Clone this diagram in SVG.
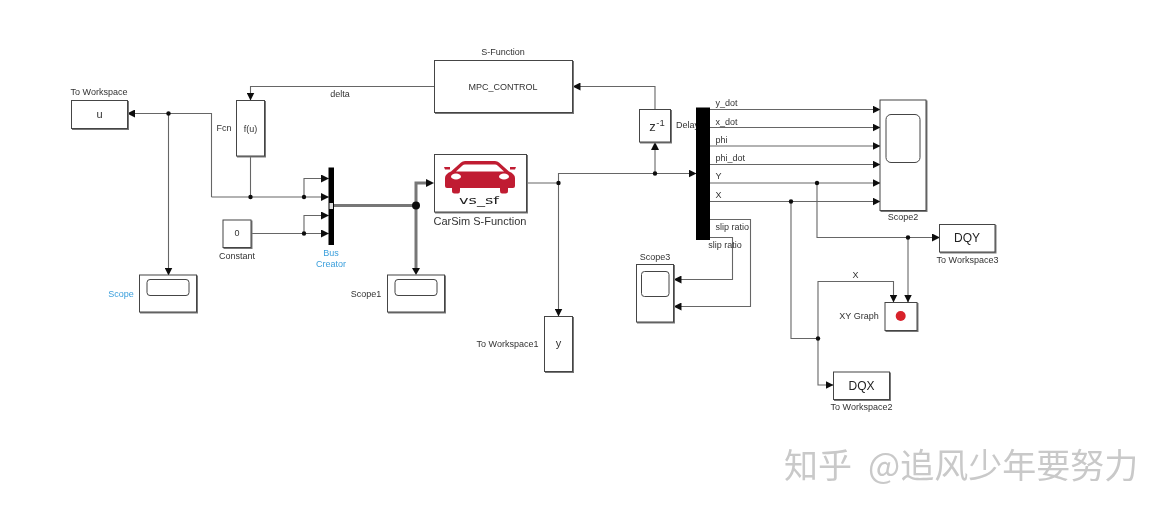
<svg xmlns="http://www.w3.org/2000/svg" width="1168" height="513" viewBox="0 0 1168 513">
<style>
text{font-family:"Liberation Sans",Arial,sans-serif;font-size:9px;fill:#333;text-anchor:middle}
.l{text-anchor:start}.b{fill:#3b9fdc}.big{font-size:12px;fill:#222}.m{font-size:11px}
.n{fill:#fff;stroke:#444;stroke-width:1;filter:url(#sh)}
.i{fill:#fff;stroke:#444;stroke-width:1}
.w{fill:none;stroke:#666;stroke-width:1.1}
.t{fill:none;stroke:#777;stroke-width:3}
.d{fill:#111;stroke:none}
</style>
<defs>
<filter id="sh" x="-10%" y="-10%" width="125%" height="125%"><feDropShadow dx="1" dy="1" stdDeviation="0.7" flood-color="#777"/></filter>
<filter id="soft" x="0" y="0" width="100%" height="100%"><feGaussianBlur stdDeviation="0.35"/></filter>
<marker id="a" viewBox="0 0 8 8" refX="7.500" refY="4" markerWidth="8" markerHeight="8" markerUnits="userSpaceOnUse" orient="auto"><path d="M0 0L8 4L0 8Z" fill="#111"/></marker>
</defs>
<rect width="1168" height="513" fill="#fff"/>
<g id="diagram" filter="url(#soft)">
<g id="connectors">
<path class="w" marker-end="url(#a)" d="M434 86.500H250.500V100"/>
<path class="w" d="M250.500 156V197"/>
<path class="w" marker-end="url(#a)" d="M211.500 197V113.500H127.500"/>
<path class="w" marker-end="url(#a)" d="M168.500 113.500V275"/>
<path class="w" marker-end="url(#a)" d="M211.500 197H328.500"/>
<path class="w" marker-end="url(#a)" d="M304 197V178.500H328.500"/>
<path class="w" marker-end="url(#a)" d="M251 233.500H328.500"/>
<path class="w" marker-end="url(#a)" d="M304 233.500V215.500H328.500"/>
<path class="t" d="M334 205.500H416V183H426"/>
<path class="t" d="M416 205.500V268"/>
<path d="M426 179L434 183L426 187Z" class="d"/>
<path d="M412 268L416 275L420 268Z" class="d"/>
<path class="w" marker-end="url(#a)" d="M527 183H558.500V173.500H696"/>
<path class="w" marker-end="url(#a)" d="M558.500 183V316"/>
<path class="w" marker-end="url(#a)" d="M655 173.500V142.500"/>
<path class="w" marker-end="url(#a)" d="M655 109V86.500H573"/>
<path class="w" marker-end="url(#a)" d="M710 109.500H880"/>
<path class="w" marker-end="url(#a)" d="M710 127.500H880"/>
<path class="w" marker-end="url(#a)" d="M710 146H880"/>
<path class="w" marker-end="url(#a)" d="M710 164.500H880"/>
<path class="w" marker-end="url(#a)" d="M710 183H880"/>
<path class="w" marker-end="url(#a)" d="M710 201.500H880"/>
<path class="w" marker-end="url(#a)" d="M817 183V237.500H939.500"/>
<path class="w" marker-end="url(#a)" d="M908 237.500V302"/>
<path class="w" d="M791 201.500V338.500H818"/>
<path class="w" marker-end="url(#a)" d="M818 338.500V281.500H893.500V302"/>
<path class="w" marker-end="url(#a)" d="M818 338.500V385H833"/>
<path class="w" marker-end="url(#a)" d="M710 237.500H732.500V279.500H674"/>
<path class="w" marker-end="url(#a)" d="M710 219.500H750.500V306.500H674"/>
<g class="d">
<circle cx="168.500" cy="113.500" r="2.200"/><circle cx="250.500" cy="197" r="2.200"/><circle cx="304" cy="197" r="2.200"/><circle cx="304" cy="233.500" r="2.200"/>
<circle cx="416" cy="205.500" r="4"/>
<circle cx="558.500" cy="183" r="2.200"/><circle cx="655" cy="173.500" r="2.200"/><circle cx="817" cy="183" r="2.200"/><circle cx="791" cy="201.500" r="2.200"/><circle cx="908" cy="237.500" r="2.200"/><circle cx="818" cy="338.500" r="2.200"/>
</g>
<g id="connector-labels">
<text x="340" y="97">delta</text>
<text class="l" x="715.500" y="106">y_dot</text>
<text class="l" x="715.500" y="124.500">x_dot</text>
<text class="l" x="715.500" y="142.500">phi</text>
<text class="l" x="715.500" y="161">phi_dot</text>
<text class="l" x="715.500" y="179">Y</text>
<text class="l" x="715.500" y="198">X</text>
<text class="l" x="715.500" y="230">slip ratio</text>
<text x="725" y="248">slip ratio</text>
<text x="855.500" y="278">X</text>
</g>
</g>
<g id="to-workspace"><rect class="n" x="71.500" y="100.500" width="56" height="28"/><text class="m" x="99.500" y="117.500">u</text><text x="99" y="95">To Workspace</text></g>
<g id="fcn"><rect class="n" x="236.500" y="100.500" width="28" height="55.500"/><text x="250.500" y="131.500">f(u)</text><text x="224" y="130.500">Fcn</text></g>
<g id="constant"><rect class="n" x="223" y="220" width="28" height="27.500"/><text x="237" y="236">0</text><text x="237" y="259">Constant</text></g>
<g id="bus-creator"><rect x="328.500" y="167.500" width="5.500" height="77.500" fill="#000"/><rect x="329.500" y="203" width="3.500" height="6" fill="#ddd"/><text class="b" x="331" y="256">Bus</text><text class="b" x="331" y="267">Creator</text></g>
<g id="scope"><rect class="n" x="139.500" y="275" width="57" height="37"/><rect class="i" x="147" y="279.500" width="42" height="16" rx="3"/><text class="b" x="121" y="297">Scope</text></g>
<g id="scope1"><rect class="n" x="387.500" y="275" width="57" height="37"/><rect class="i" x="395" y="279.500" width="42" height="16" rx="3"/><text x="366" y="297">Scope1</text></g>
<g id="s-function"><rect class="n" x="434.500" y="60.500" width="138" height="52"/><text x="503" y="90">MPC_CONTROL</text><text x="503" y="55">S-Function</text></g>
<g id="carsim"><rect class="n" x="434.500" y="154.500" width="92" height="57.500"/>
<path fill="#c01f33" d="M451 171.500L461 162.500Q462.500 161 465 161H495Q497.500 161 499 162.500L509 171.500Q515 174 515 178V186Q515 188 513 188H508V191Q508 193.500 505.500 193.500H502Q500 193.500 500 191V188H460V191Q460 193.500 458 193.500H454.500Q452 193.500 452 191V188H447Q445 188 445 186V178Q445 174 451 171.500Z"/>
<path fill="#c01f33" d="M444 167H450V169.500L445 169.500ZM510 167H516L515 169.500H510Z"/>
<path fill="#fff" d="M456 171.500L462.500 165.500Q463.500 164.500 465 164.500H495Q496.500 164.500 497.500 165.500L504 171.500Z"/>
<ellipse cx="456" cy="176.500" rx="5" ry="3" fill="#fff"/><ellipse cx="504" cy="176.500" rx="5" ry="3" fill="#fff"/>
<text x="479" y="203.500" style="font-size:11px;font-family:'DejaVu Sans',sans-serif;fill:#222" textLength="40" lengthAdjust="spacingAndGlyphs">vs_sf</text>
<text class="m" x="480" y="225">CarSim S-Function</text></g>
<g id="delay"><rect class="n" x="639.500" y="109.500" width="31" height="32.500"/><text x="652.500" y="130.500" style="font-size:13px">z</text><text x="660.500" y="126" style="font-size:9.500px">-1</text><text class="l" x="676" y="128">Delay</text></g>
<g id="demux"><rect x="696" y="107.500" width="14" height="132.500" fill="#000"/></g>
<g id="scope2"><rect class="n" x="880" y="100" width="46" height="110.500"/><rect class="i" x="886" y="114.500" width="34" height="48" rx="5"/><text x="903" y="220">Scope2</text></g>
<g id="scope3"><rect class="n" x="636.500" y="264.500" width="37" height="57.500"/><rect class="i" x="641.500" y="271.500" width="27.500" height="25" rx="3"/><text x="655" y="259.500">Scope3</text></g>
<g id="to-workspace1"><rect class="n" x="544.500" y="316.500" width="28" height="55"/><text class="m" x="558.500" y="347">y</text><text x="507.500" y="347">To Workspace1</text></g>
<g id="to-workspace3"><rect class="n" x="939.500" y="224.500" width="55.500" height="27.500"/><text class="big" x="967" y="242">DQY</text><text x="967.500" y="263">To Workspace3</text></g>
<g id="to-workspace2"><rect class="n" x="833.500" y="372" width="56" height="27.500"/><text class="big" x="861.500" y="390">DQX</text><text x="861.500" y="410">To Workspace2</text></g>
<g id="xy-graph"><rect class="n" x="885" y="302.500" width="32" height="28"/><circle cx="900.700" cy="316" r="5" fill="#d8202c"/><text x="859" y="319">XY Graph</text></g>
<text id="watermark" x="784" y="478" style="text-anchor:start;font-family:'Noto Sans CJK SC',sans-serif;font-size:34px;fill:#c9c9c9">知乎<tspan x="868">@追风少年要努力</tspan></text>
</g>
</svg>
